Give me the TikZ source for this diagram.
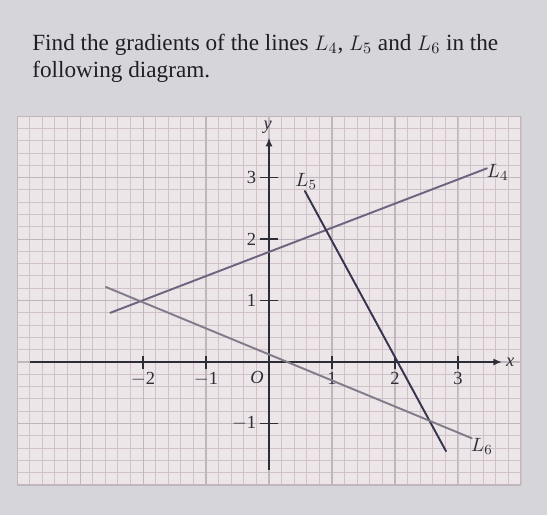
\documentclass[tikz,border=0pt]{standalone}
\usepackage{fontspec}
\setmainfont{Liberation Serif}
\usetikzlibrary{arrows.meta}
\definecolor{bgcol}{RGB}{214,214,218}
\definecolor{papercol}{RGB}{236,230,233}
\definecolor{gridcol}{RGB}{208,194,200}
\definecolor{gridmaj}{RGB}{192,182,188}
\definecolor{axiscol}{RGB}{45,45,55}
\definecolor{lfour}{RGB}{110,100,128}
\definecolor{lfive}{RGB}{55,52,78}
\definecolor{lsix}{RGB}{130,124,138}
\definecolor{txtcol}{RGB}{30,30,38}
\tikzset{
  titletext/.style={anchor=base west, inner sep=0pt, text=txtcol, font=\fontsize{13.2}{16}\selectfont},
  ticklabel/.style={text=axiscol, inner sep=1pt, font=\fontsize{10.5}{12}\selectfont},
  linelabel/.style={text=axiscol, inner sep=0pt, font=\fontsize{11}{13}\selectfont},
  axisline/.style={draw=axiscol, line width=0.9pt, -{Latex[length=5pt,width=4pt]}},
  tickmark/.style={draw=axiscol, line width=0.7pt},
  gline/.style={line width=1.1pt, line cap=round}
}
\begin{document}
\begin{tikzpicture}[x=0.02cm,y=-0.02cm]
\useasboundingbox (0,0) rectangle (547,515);
\fill[bgcol] (0,0) rectangle (547,515);
\node[titletext] (t1) at (32,50) {Find the gradients of the lines $L_4$, $L_5$ and $L_6$ in the};
\node[titletext] (t2) at (32,77) {following diagram.};
\coordinate (O) at (269,362);
\begin{scope}[shift={(O)}, x=1.26cm, y=1.23cm]
  \fill[papercol] (-4,-2) rectangle (4,4);
  \foreach \i in {0,...,40} {
    \draw[gridcol, line width=0.5pt] ({-4+\i*0.2},-2) -- ({-4+\i*0.2},4);
  }
  \foreach \i in {0,...,30} {
    \draw[gridcol, line width=0.5pt] (-4,{-2+\i*0.2}) -- (4,{-2+\i*0.2});
  }
  \foreach \i in {-4,...,4} \draw[gridmaj, line width=0.6pt] (\i,-2) -- (\i,4);
  \foreach \i in {-2,...,4} \draw[gridmaj, line width=0.6pt] (-4,\i) -- (4,\i);
  % axes
  \coordinate (xs) at (-3.8,0);
  \coordinate (xe) at (3.7,0);
  \coordinate (ys) at (0,-1.75);
  \coordinate (ye) at (0,3.65);
  \draw[axisline] (xs) -- (xe);
  \draw[axisline] (ys) -- (ye);
  \node[linelabel, font=\fontsize{10.5}{12}\selectfont\itshape] (xl) at (3.83,0) {x};
  \node[linelabel, font=\fontsize{10.5}{12}\selectfont\itshape] (yl) at (-0.02,3.82) {y};
  \foreach \v/\t in {-2/$-$2,-1/$-$1,1/1,2/2,3/3} {
    \draw[tickmark] (\v,-0.12) -- (\v,0.1);
    \node[ticklabel, anchor=north] (xt\v) at (\v,-0.13) {\t};
  }
  \foreach \v/\t in {1/1,2/2,3/3,-1/$-$1} {
    \draw[tickmark] (-0.15,\v) -- (0.15,\v);
    \node[ticklabel, anchor=east] (yt\v) at (-0.17,\v) {\t};
  }
  \node[ticklabel, font=\fontsize{10.5}{12}\selectfont\itshape] (o) at (-0.19,-0.25) {O};
  % lines
  \coordinate (a1) at (-2.52,0.8);
  \coordinate (a2) at (3.46,3.15);
  \coordinate (b1) at (0.57,2.78);
  \coordinate (b2) at (2.81,-1.45);
  \coordinate (c1) at (-2.59,1.22);
  \coordinate (c2) at (3.22,-1.24);
  \draw[gline, lfour] (a1) -- (a2);
  \draw[gline, lfive] (b1) -- (b2);
  \draw[gline, lsix] (c1) -- (c2);
  \node[linelabel] (l4) at (3.63,3.09) {$L_4$};
  \node[linelabel] (l5) at (0.59,2.94) {$L_5$};
  \node[linelabel] (l6) at (3.38,-1.37) {$L_6$};
\end{scope}
\end{tikzpicture}
\end{document}
